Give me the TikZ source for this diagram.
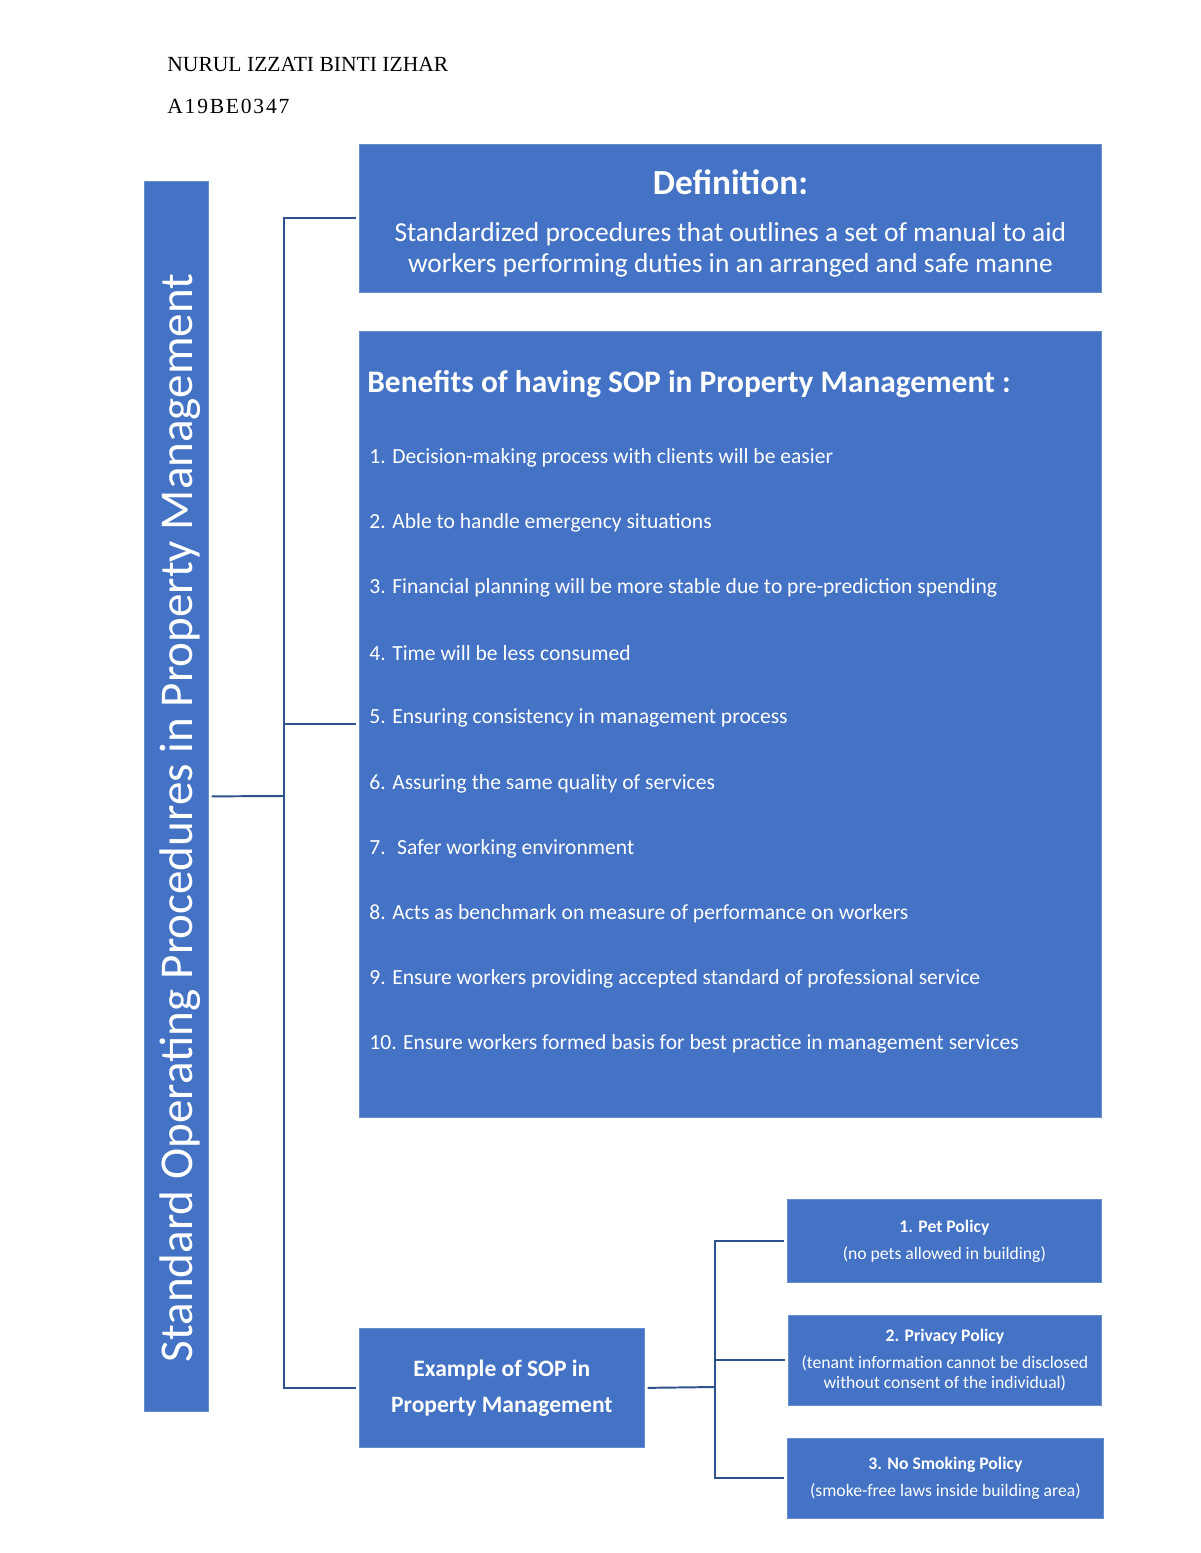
\documentclass[tikz,border=0pt]{standalone}
\usepackage{fontspec}
\setmainfont{Carlito}
\newfontfamily\namefont{Liberation Serif}
\usetikzlibrary{positioning}
\definecolor{boxblue}{HTML}{4472C4}
\definecolor{lineblue}{HTML}{2F528F}
\newlength\unitpx
\setlength\unitpx{0.51pt}

\begin{document}
\begin{tikzpicture}[x=0.51pt,y=-0.51pt,
  bluebox/.style={fill=boxblue,draw=boxblue!80!white,text=white,inner sep=0pt,anchor=north west,align=center},
  link/.style={draw=lineblue,line width=1pt,shorten <=1.5pt},
  benefit/.style={text=white,anchor=west,inner sep=0pt,font=\fontsize{11}{13}\selectfont},
  header/.style={anchor=base west,inner sep=0pt,font=\namefont\fontsize{11}{13}\selectfont}]
\useasboundingbox (0,0) rectangle (1200,1553);

\node[header] (name) at (167,72) {NURUL IZZATI BINTI IZHAR};
\node[header] (regno) at (167,114) {A\kern.9pt1\kern.9pt9\kern.9pt B\kern.9pt E\kern.9pt0\kern.9pt3\kern.9pt4\kern.9pt7};

\node[bluebox,minimum width=64\unitpx,minimum height=1230\unitpx] (title) at (144,181) {};
\node[text=white,rotate=90,inner sep=0pt,font=\fontsize{24}{29}\selectfont] (titletext) at (180,818) {Standard Operating Procedures in Property Management};

\node[bluebox,minimum width=742\unitpx,minimum height=148\unitpx,font=\fontsize{14}{15.8}\selectfont] (def) at (359,144)
  {\rule{0pt}{4pt}\\[-2pt]{\fontsize{18}{19}\selectfont\bfseries Definition:}\\[8pt]
   Standardized procedures that outlines a set of manual to aid\\
   workers performing duties in an arranged and safe manne};

\node[bluebox,minimum width=742\unitpx,minimum height=786\unitpx] (benefits) at (359,331) {};
\node[benefit,font=\fontsize{16}{19}\selectfont\bfseries] (bhead) at (367,384) {Benefits of having SOP in Property Management :};
\foreach \n/\txt [count=\i from 0] in {
  1/Decision-making process with clients will be easier,
  2/Able to handle emergency situations,
  3/Financial planning will be more stable due to pre-prediction spending,
  4/Time will be less consumed,
  5/Ensuring consistency in management process,
  6/Assuring the same quality of services,
  7/\ Safer working environment,
  8/Acts as benchmark on measure of performance on workers,
  9/Ensure workers providing accepted standard of professional service,
  10/Ensure workers formed basis for best practice in management services}
  \node[benefit] (b\n) at (369,458+65.1*\i) {\n. \txt};

\node[bluebox,minimum width=285\unitpx,minimum height=119\unitpx,font=\fontsize{12}{18.4}\selectfont\bfseries] (example) at (359,1328)
  {Example of SOP in\\Property Management};

\node[bluebox,minimum width=314\unitpx,minimum height=83\unitpx,font=\fontsize{9}{13.8}\selectfont] (pet) at (787,1199)
  {\textbf{1. Pet Policy}\\(no pets allowed in building)};
\node[bluebox,minimum width=313\unitpx,minimum height=90\unitpx,font=\fontsize{9}{10.2}\selectfont] (privacy) at (788,1315)
  {\textbf{2. Privacy Policy}\\[3.6pt](tenant information cannot be disclosed\\without consent of the individual)};
\node[bluebox,minimum width=316\unitpx,minimum height=80\unitpx,font=\fontsize{9}{13.8}\selectfont] (smoking) at (787,1438)
  {\textbf{3. No Smoking Policy}\\(smoke-free laws inside building area)};

\coordinate (trunk) at (284,796);
\coordinate (fork) at (715,1387);
\draw[link] (title.east) -- (trunk);
\draw[link] (def.west) -| (trunk);
\draw[link] (benefits.west) -- (benefits.west -| trunk);
\draw[link] (example.west) -| (trunk);

\draw[link] (example.east) -- (fork);
\draw[link] (pet.west) -| (fork);
\draw[link] (privacy.west) -- (privacy.west -| fork);
\draw[link] (smoking.west) -| (fork);
\end{tikzpicture}
\end{document}
